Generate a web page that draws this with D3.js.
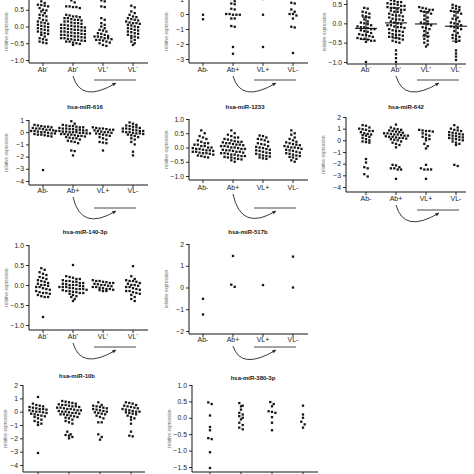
<!DOCTYPE html>
<html><head><meta charset="utf-8">
<script src="https://cdn.jsdelivr.net/npm/d3@7"></script>
<style>body{margin:0;background:#fff}svg{display:block}text{font-family:"Liberation Sans",Arial,sans-serif}</style>
</head><body>
<script>
// ---------- DATA ----------
const catsSup = ["Ab\u207B","Ab\u207A","VL\u207A","VL\u207B"];
const catsPlain = ["Ab-","Ab+","VL+","VL-"];
const titles = ["", "", "", "hsa-miR-616", "hsa-miR-1233", "hsa-miR-642", "hsa-miR-140-3p", "hsa-miR-517b", "hsa-miR-10b", "hsa-miR-380-3p"];
const ticksA = [-1.0,-0.5,0.0,0.5];
const ticksB = [-3,-2,-1,0,1];
const ticksC = [-1.0,-0.5,0.0,0.5];
const ticks616 = [-4,-3,-2,-1,0,1];
const ticks1233 = [-1.0,-0.5,0.0,0.5,1.0];
const ticks642 = [-4,-3,-2,-1,0,1,2];
const ticks140 = [-1.0,-0.5,0.0,0.5,1.0];
const ticks517 = [-2,-1,0,1,2];
const ticks10b = [-4,-3,-2,-1,0,1,2];
const ticks380 = [-1.5,-1.0,-0.5,0.0,0.5,1.0];

// panel A (top-left, title cut off)
const pA_abN = [0.75,0.7,0.65,0.64,0.62,0.6,0.55,0.5,0.48,0.45,0.4,0.35,0.33,0.3,0.25,0.2,0.18,0.15,0.12,0.1,0.08,0.05,0.02,0,-0.02,-0.05,-0.08,-0.1,-0.12,-0.15,-0.18,-0.2,-0.22,-0.25,-0.3,-0.35,-0.38,-0.4,-0.45,-0.48,-0.5];
const pA_abP = [0.78,0.72,0.6,0.6,0.58,0.58,0.55,0.35,0.33,0.3,0.3,0.28,0.25,0.25,0.22,0.2,0.2,0.18,0.15,0.15,0.12,0.1,0.1,0.08,0.05,0.05,0.03,0.02,0,0,-0.02,-0.03,-0.05,-0.05,-0.07,-0.08,-0.1,-0.1,-0.12,-0.13,-0.15,-0.15,-0.17,-0.18,-0.2,-0.2,-0.22,-0.23,-0.25,-0.25,-0.27,-0.28,-0.3,-0.3,-0.32,-0.33,-0.35,-0.35,-0.37,-0.38,-0.4,-0.4,-0.42,-0.43,-0.45,-0.45,-0.48,-0.5,-0.52,-0.55];
const pA_vlP = [0.78,0.75,0.6,0.58,0.25,0.2,0.1,0.05,0,-0.05,-0.1,-0.12,-0.15,-0.2,-0.22,-0.25,-0.28,-0.3,-0.3,-0.32,-0.35,-0.35,-0.38,-0.4,-0.4,-0.42,-0.45,-0.48,-0.5,-0.55,-0.58];
const pA_vlN = [0.62,0.57,0.45,0.4,0.35,0.3,0.28,0.25,0.22,0.2,0.18,0.15,0.12,0.1,0.1,0.08,0.05,0.03,0,-0.02,-0.05,-0.07,-0.1,-0.12,-0.15,-0.17,-0.2,-0.22,-0.25,-0.28,-0.3,-0.33,-0.35,-0.4,-0.45,-0.5,-0.55];
// panel B (top-middle)
const pB_abN = [-0.05,-0.35];
const pB_abP = [1.0,0.85,0.7,0.65,0.35,0.3,0,-0.05,-0.05,-0.05,0,-0.3,-0.3,-0.85,-0.8,-2.2,-2.65];
const pB_vlP = [1.0,-0.05,-2.2];
const pB_vlN = [0.75,0.7,0.3,0.15,-0.1,-0.3,0,0,-0.85,-0.9,-2.6];
// panel C (top-right, mean +/- SD)
const pC_abN = [0.4,0.38,0.3,0.28,0.25,0.2,0.18,0.15,0.1,0.05,0.02,0,-0.02,-0.05,-0.08,-0.1,-0.1,-0.12,-0.15,-0.15,-0.18,-0.2,-0.22,-0.25,-0.28,-0.3,-0.3,-0.33,-0.35,-0.38,-0.4,-0.4,-0.42,-0.45,-0.45,-0.48,-1.0];
const pC_abP = [0.6,0.58,0.55,0.55,0.52,0.5,0.5,0.48,0.45,0.45,0.42,0.4,0.4,0.38,0.35,0.35,0.33,0.3,0.3,0.28,0.25,0.22,0.2,0.2,0.18,0.15,0.12,0.1,0.1,0.08,0.05,0.02,0,-0.02,-0.05,-0.05,-0.08,-0.1,-0.1,-0.12,-0.15,-0.18,-0.2,-0.2,-0.22,-0.25,-0.28,-0.3,-0.3,-0.32,-0.35,-0.35,-0.38,-0.4,-0.42,-0.45,-0.48,-0.5,-0.7,-0.8,-0.9,-1.0];
const pC_vlP = [0.42,0.4,0.38,0.35,0.35,0.32,0.3,0.28,0.25,0.2,0.15,0.1,0.05,0.02,0,-0.02,-0.05,-0.1,-0.12,-0.15,-0.2,-0.25,-0.3,-0.35,-0.4,-0.45,-0.5,-0.55,-0.6];
const pC_vlN = [0.48,0.45,0.42,0.4,0.38,0.35,0.32,0.3,0.28,0.25,0.2,0.15,0.12,0.1,0.05,0.02,0,-0.02,-0.05,-0.08,-0.1,-0.12,-0.15,-0.2,-0.25,-0.3,-0.32,-0.35,-0.38,-0.4,-0.45,-0.48,-0.7,-0.78,-0.86,-0.95];
// hsa-miR-616
const m616_abN = [0.6,0.55,0.5,0.45,0.45,0.4,0.35,0.3,0.3,0.25,0.2,0.2,0.15,0.1,0.1,0.05,0,0,-0.05,-0.1,-0.1,-0.15,-0.2,-0.2,-0.25,-0.3,-0.35,-3.1];
const m616_abP = [0.9,0.7,0.6,0.55,0.5,0.5,0.45,0.4,0.4,0.35,0.3,0.3,0.25,0.25,0.2,0.2,0.15,0.15,0.1,0.1,0.05,0.05,0,0,0,-0.05,-0.05,-0.1,-0.1,-0.15,-0.15,-0.2,-0.2,-0.25,-0.3,-0.3,-0.35,-0.4,-0.45,-0.5,-0.5,-0.6,-0.7,-0.75,-0.8,-0.9,-1.5,-1.55,-1.9];
const m616_vlP = [0.4,0.35,0.3,0.3,0.25,0.2,0.2,0.15,0.1,0.05,0,0,-0.05,-0.1,-0.15,-0.2,-0.25,-0.3,-0.4,-0.5,-0.6,-0.8,-0.85,-0.9,-1.5];
const m616_vlN = [0.8,0.7,0.6,0.55,0.5,0.45,0.4,0.35,0.3,0.3,0.25,0.2,0.15,0.1,0.1,0.05,0,0,-0.05,-0.1,-0.1,-0.15,-0.2,-0.25,-0.3,-0.4,-0.5,-0.6,-0.8,-1.0,-1.6,-1.9];
// hsa-miR-1233
const m1233_abN = [0.6,0.5,0.4,0.35,0.3,0.25,0.2,0.15,0.15,0.1,0.1,0.05,0.05,0,0,-0.02,-0.05,-0.05,-0.08,-0.1,-0.1,-0.12,-0.15,-0.15,-0.18,-0.2,-0.2,-0.22,-0.25,-0.28,-0.3,-0.33,-0.35];
const m1233_abP = [0.6,0.5,0.45,0.4,0.35,0.35,0.3,0.28,0.25,0.22,0.2,0.2,0.18,0.15,0.15,0.12,0.1,0.1,0.08,0.05,0.05,0.03,0,0,-0.02,-0.05,-0.05,-0.08,-0.1,-0.1,-0.12,-0.15,-0.15,-0.18,-0.2,-0.2,-0.22,-0.25,-0.25,-0.28,-0.3,-0.3,-0.33,-0.35,-0.35,-0.38,-0.4,-0.42,-0.45,-0.5];
const m1233_vlP = [0.42,0.4,0.35,0.3,0.28,0.25,0.2,0.15,0.12,0.1,0.05,0.02,0,-0.02,-0.05,-0.08,-0.1,-0.12,-0.15,-0.18,-0.2,-0.22,-0.25,-0.28,-0.3,-0.32,-0.35,-0.38,-0.4];
const m1233_vlN = [0.6,0.5,0.45,0.35,0.3,0.25,0.2,0.18,0.15,0.12,0.1,0.08,0.05,0.03,0,0,-0.02,-0.05,-0.08,-0.1,-0.12,-0.15,-0.18,-0.2,-0.22,-0.25,-0.28,-0.3,-0.33,-0.35,-0.4,-0.45,-0.5];
// hsa-miR-642
const m642_abN = [1.3,1.25,1.1,1.0,0.95,0.9,0.8,0.8,0.7,0.6,0.55,0.5,0.45,0.4,0.3,0.2,0.1,0,-0.1,-0.15,-0.2,-1.6,-1.9,-2.3,-2.4,-2.9,-3.1];
const m642_abP = [1.35,1.1,1.0,0.95,0.9,0.85,0.8,0.75,0.7,0.65,0.6,0.6,0.55,0.5,0.5,0.45,0.4,0.4,0.35,0.3,0.3,0.25,0.2,0.2,0.15,0.1,0.05,0,-0.1,-0.2,-0.3,-0.4,-0.6,-2.1,-2.15,-2.3,-2.4,-2.4,-2.5,-2.5,-3.3];
const m642_vlP = [0.9,0.85,0.8,0.8,0.75,0.6,0.5,0.4,0.3,0.2,0.1,0,-0.3,-0.5,-0.7,-2.1,-2.4,-2.5,-2.5,-2.5,-3.3];
const m642_vlN = [1.3,1.1,1.0,0.9,0.85,0.8,0.7,0.65,0.6,0.55,0.5,0.45,0.4,0.35,0.3,0.25,0.2,0.15,0.1,0.05,0,-0.1,-0.2,-0.3,-0.4,-2.2,-2.1];
// hsa-miR-140-3p
const m140_abN = [0.42,0.38,0.32,0.28,0.25,0.2,0.18,0.15,0.12,0.1,0.08,0.05,0.03,0,0,-0.02,-0.05,-0.05,-0.08,-0.1,-0.12,-0.15,-0.18,-0.2,-0.2,-0.22,-0.25,-0.28,-0.3,-0.3,-0.8];
const m140_abP = [0.5,0.22,0.2,0.18,0.15,0.15,0.12,0.1,0.1,0.08,0.08,0.05,0.05,0.03,0.02,0,0,0,-0.02,-0.03,-0.05,-0.05,-0.05,-0.07,-0.08,-0.1,-0.1,-0.1,-0.12,-0.13,-0.15,-0.15,-0.17,-0.18,-0.2,-0.2,-0.22,-0.25,-0.28,-0.3,-0.35,-0.4];
const m140_vlP = [0.12,0.1,0.1,0.08,0.07,0.05,0.05,0.03,0.02,0,0,-0.02,-0.03,-0.05,-0.05,-0.07,-0.08,-0.1,-0.1,-0.12,-0.13,-0.15,-0.15];
const m140_vlN = [0.47,0.22,0.15,0.12,0.1,0.1,0.08,0.05,0.03,0,0,-0.02,-0.05,-0.05,-0.08,-0.1,-0.12,-0.15,-0.15,-0.18,-0.2,-0.22,-0.25,-0.3,-0.35,-0.4];
// hsa-miR-517b
const m517_abN = [-0.52,-1.24];
const m517_abP = [1.45,0.03,0.13];
const m517_vlP = [0.11];
const m517_vlN = [1.42,0.0];
// hsa-miR-10b
const m10b_abN = [1.1,0.6,0.5,0.45,0.4,0.35,0.3,0.25,0.2,0.2,0.15,0.1,0.05,0,0,-0.05,-0.1,-0.15,-0.2,-0.25,-0.3,-0.35,-0.4,-0.5,-0.6,-0.7,-0.8,-0.9,-1.0,-3.1];
const m10b_abP = [0.8,0.75,0.7,0.65,0.6,0.55,0.5,0.5,0.45,0.4,0.4,0.35,0.3,0.3,0.25,0.2,0.2,0.15,0.1,0.1,0.05,0,0,-0.05,-0.1,-0.1,-0.15,-0.2,-0.2,-0.25,-0.3,-0.35,-0.4,-0.45,-0.5,-0.6,-0.7,-0.8,-0.9,-1.5,-1.7,-1.75,-1.8,-1.9,-2.0];
const m10b_vlP = [0.7,0.5,0.45,0.4,0.35,0.3,0.25,0.2,0.15,0.1,0.05,0,-0.05,-0.1,-0.15,-0.2,-0.3,-0.4,-0.5,-0.8,-0.8,-1.7,-1.9,-2.1];
const m10b_vlN = [0.7,0.65,0.6,0.5,0.45,0.4,0.35,0.3,0.25,0.2,0.15,0.1,0.05,0,0,-0.05,-0.1,-0.15,-0.2,-0.3,-0.4,-0.5,-0.6,-0.9,-1.5,-1.8,-1.85];
// hsa-miR-380-3p
const m380_abN = [0.47,0.42,0.07,-0.28,-0.38,-0.65,-0.62,-1.05,-1.53];
const m380_abP = [0.45,0.37,0.35,0.25,0.15,0.1,0.05,0,-0.05,-0.15,-0.22,-0.3,-0.35];
const m380_vlP = [0.48,0.42,0.35,0.2,0.15,0.18,0.02,-0.15,-0.38];
const m380_vlN = [0.37,0.1,0,-0.12,-0.2,-0.3];

// ---------- LAYOUT ----------
const panels = [
 {groups:[pA_abN,pA_abP,pA_vlP,pA_vlN], ticks:ticksA, fmt:".1f", ax:29, c0:43, step:30, xEnd:148, dom:[-1,1], rng:[60,-7], xAxisY:63, labels:catsSup, labY:72, arrow:true, ulY:80, title:titles[0]},
 {groups:[pB_abN,pB_abP,pB_vlP,pB_vlN], ticks:ticksB, fmt:"d", ax:189, c0:203, step:30, xEnd:308, dom:[-3,1], rng:[59,-1], top:-5, xAxisY:63, labels:catsPlain, labY:72, arrow:true, ulY:80, title:titles[1]},
 {groups:[pC_abN,pC_abP,pC_vlP,pC_vlN], ticks:ticksC, fmt:".1f", ax:347, c0:366, step:30, xEnd:466, dom:[-1,0.5], rng:[62,4], top:-5, xAxisY:64, labels:catsSup, labY:72, arrow:true, ulY:80, title:titles[2], meanSD:true},
 {groups:[m616_abN,m616_abP,m616_vlP,m616_vlN], ticks:ticks616, fmt:"d", ax:29, c0:43, step:30, xEnd:148, dom:[-4,1], rng:[181,120], xAxisY:185, labels:catsPlain, labY:193, arrow:true, ulY:208, title:titles[3], tx:85, ty:109},
 {groups:[m1233_abN,m1233_abP,m1233_vlP,m1233_vlN], ticks:ticks1233, fmt:".1f", ax:189, c0:203, step:30, xEnd:308, dom:[-1,1], rng:[176,119], xAxisY:180, labels:catsPlain, labY:190, arrow:true, ulY:208, title:titles[4], tx:245, ty:109},
 {groups:[m642_abN,m642_abP,m642_vlP,m642_vlN], ticks:ticks642, fmt:"d", ax:346, c0:366, step:30, xEnd:466, dom:[-4,2], rng:[187,117], xAxisY:192, labels:catsPlain, labY:201, arrow:true, ulY:210, title:titles[5], tx:406, ty:109},
 {groups:[m140_abN,m140_abP,m140_vlP,m140_vlN], ticks:ticks140, fmt:".1f", ax:29, c0:43, step:30, xEnd:148, dom:[-1,1], rng:[325,245], xAxisY:330, labels:catsSup, labY:339, arrow:true, ulY:347, title:titles[6], tx:85, ty:234},
 {groups:[m517_abN,m517_abP,m517_vlP,m517_vlN], ticks:ticks517, fmt:"d", ax:189, c0:203, step:30, xEnd:308, dom:[-2,2], rng:[331,244], xAxisY:334, labels:catsPlain, labY:342, arrow:true, ulY:347, title:titles[7], tx:248, ty:234},
 {groups:[m10b_abN,m10b_abP,m10b_vlP,m10b_vlN], ticks:ticks10b, fmt:"d", ax:23, c0:38, step:31, xEnd:145, dom:[-4,2], rng:[465,385], xAxisY:472, labels:null, title:titles[8], tx:77, ty:378},
 {groups:[m380_abN,m380_abP,m380_vlP,m380_vlN], ticks:ticks380, fmt:".1f", ax:192, c0:210, step:31, xEnd:318, dom:[-1.5,1.0], rng:[467,385], xAxisY:472, labels:null, title:titles[9], tx:253, ty:380}
];

const W = 474, H = 474;
const svg = d3.select("body").append("svg").attr("width", W).attr("height", H);
const ink = "#151515";
const DOT = 2.3, SP = 3.4;

function swarm(vals, y, cx) {
  const pts = vals.map(v => ({v, py: y(v)})).sort((a, b) => a.py - b.py);
  const rows = [];
  pts.forEach(p => {
    const r = rows[rows.length - 1];
    if (r && p.py - r[0].py < SP * 0.85) r.push(p); else rows.push([p]);
  });
  rows.forEach(r => r.forEach((p, i) => { p.px = cx + (i - (r.length - 1) / 2) * SP; }));
  return pts;
}

panels.forEach(P => {
  const g = svg.append("g");
  const y = d3.scaleLinear().domain(P.dom).range(P.rng);
  const xs = d3.scalePoint().domain(d3.range(4)).range([P.c0, P.c0 + 3 * P.step]);
  const topY = P.top !== undefined ? P.top : P.rng[1];
  // y axis
  const yAx = d3.axisLeft(y).tickValues(P.ticks).tickSize(3).tickPadding(2)
      .tickFormat(d => P.fmt === "d" ? d3.format("d")(d) : d3.format(".1f")(d));
  const ya = g.append("g").attr("transform", `translate(${P.ax},0)`).call(yAx);
  ya.select(".domain").remove();
  ya.selectAll("line").attr("stroke", ink).attr("stroke-width", 0.9);
  ya.selectAll("text").attr("font-size", 6.8).attr("fill", "#222");
  g.append("line").attr("x1", P.ax).attr("x2", P.ax).attr("y1", topY).attr("y2", P.xAxisY)
    .attr("stroke", ink).attr("stroke-width", 1);
  // x axis
  g.append("line").attr("x1", P.ax).attr("x2", P.xEnd).attr("y1", P.xAxisY).attr("y2", P.xAxisY)
    .attr("stroke", ink).attr("stroke-width", 1);
  d3.range(4).forEach(i => {
    g.append("line").attr("x1", xs(i)).attr("x2", xs(i)).attr("y1", P.xAxisY).attr("y2", P.xAxisY + 3)
      .attr("stroke", ink).attr("stroke-width", 0.9);
    if (P.labels) g.append("text").attr("x", xs(i)).attr("y", P.labY).attr("text-anchor", "middle")
      .attr("font-size", 7).attr("fill", "#222").text(P.labels[i]);
  });
  // y label
  const midY = (Math.max(topY, 0) + P.xAxisY) / 2;
  g.append("text").attr("transform", `translate(${Math.max(P.ax - 21, 7)},${midY}) rotate(-90)`)
    .attr("text-anchor", "middle").attr("font-size", 4.6).attr("fill", "#666").text("relative expression");
  // dots
  P.groups.forEach((vals, i) => {
    const pts = swarm(vals, y, xs(i));
    g.selectAll(null).data(pts).enter().append("rect")
      .attr("x", d => d.px - DOT / 2).attr("y", d => d.py - DOT / 2)
      .attr("width", DOT).attr("height", DOT).attr("fill", ink);
    if (P.meanSD) {
      const m = d3.mean(vals), s = d3.deviation(vals);
      g.append("line").attr("x1", xs(i) - 11).attr("x2", xs(i) + 11).attr("y1", y(m)).attr("y2", y(m))
        .attr("stroke", ink).attr("stroke-width", 1.1);
      g.append("line").attr("x1", xs(i)).attr("x2", xs(i)).attr("y1", y(m + s)).attr("y2", y(m - s))
        .attr("stroke", ink).attr("stroke-width", 1);
      [m + s, m - s].forEach(v => g.append("line").attr("x1", xs(i) - 4).attr("x2", xs(i) + 4)
        .attr("y1", y(v)).attr("y2", y(v)).attr("stroke", ink).attr("stroke-width", 1));
    }
  });
  // underline + curved arrow
  if (P.arrow) {
    const x2 = xs(2), x3 = xs(3), x1 = xs(1);
    g.append("line").attr("x1", x2 - 9).attr("x2", x3 + 3).attr("y1", P.ulY).attr("y2", P.ulY)
      .attr("stroke", "#333").attr("stroke-width", 0.9);
    const sx = x1, sy = P.labY + 4, ex = x1 + 43, ey = P.ulY + 3;
    const cx = sx + 8, cy = P.ulY + 24;
    const path = d3.path();
    path.moveTo(sx, sy);
    path.quadraticCurveTo(cx, cy, ex, ey);
    g.append("path").attr("d", path.toString()).attr("fill", "none").attr("stroke", "#222").attr("stroke-width", 0.9);
    const ang = Math.atan2(ey - cy, ex - cx);
    const L = 4, wd = 0.45;
    const hp = [[ex, ey],
      [ex - L * Math.cos(ang - wd), ey - L * Math.sin(ang - wd)],
      [ex - L * Math.cos(ang + wd), ey - L * Math.sin(ang + wd)]];
    g.append("path").attr("d", d3.line()(hp) + "Z").attr("fill", "#222");
  }
  // title
  if (P.title) g.append("text").attr("x", P.tx).attr("y", P.ty).attr("text-anchor", "middle")
    .attr("font-size", 6).attr("font-weight", "bold").attr("fill", ink).text(P.title);
});
</script>
</body></html>
